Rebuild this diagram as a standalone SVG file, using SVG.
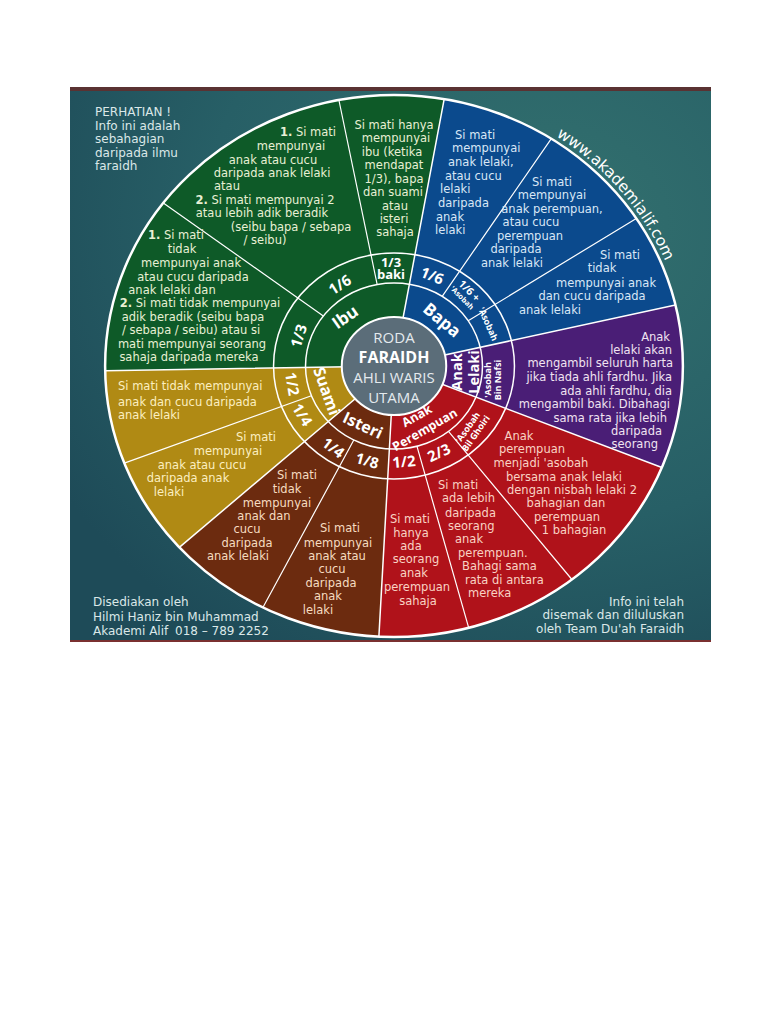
<svg xmlns="http://www.w3.org/2000/svg" width="768" height="1024" viewBox="0 0 768 1024">
<defs>
<radialGradient id="bg" cx="0.75" cy="0.25" r="0.9">
<stop offset="0" stop-color="#33716f"/>
<stop offset="0.6" stop-color="#275f66"/>
<stop offset="1" stop-color="#1e4b58"/>
</radialGradient>
<path id="urlpath" d="M556 136 A293.2 275 0 0 1 682 315"/>
<style>
text{font-family:"Open Sans","DejaVu Sans",sans-serif;}
.t{font-family:"DejaVu Sans",sans-serif;font-size:11.5px;text-anchor:middle;}
.s{text-anchor:start;}
.e{text-anchor:end;}
.gr{fill:#e8f0d4;}
.bl{fill:#d9e7f6;}
.pu{fill:#f1e3f1;}
.rd{fill:#f9d2c4;}
.br{fill:#f6dcc0;}
.go{fill:#fcefc0;}
.nt{font-family:"DejaVu Sans",sans-serif;fill:#dbe8e8;font-size:12px;}
.nm{fill:#ffffff;font-weight:700;font-size:17px;text-anchor:middle;}
.fr{fill:#ffffff;font-weight:700;font-size:15px;text-anchor:middle;}
.sm{fill:#ffffff;font-weight:700;font-size:8.5px;text-anchor:middle;}
.ln{stroke:#ffffff;stroke-width:1.5;fill:none;}
.ctr{fill:#e4eaee;font-size:15px;text-anchor:middle;}
</style>
</defs>
<rect x="0" y="0" width="768" height="1024" fill="#ffffff"/>
<rect x="70" y="87" width="641" height="555" fill="url(#bg)"/>
<rect x="70" y="87" width="641" height="4" fill="#5a3232"/>
<rect x="70" y="640" width="641" height="2" fill="#7a3030"/>

<g id="wheel" transform="translate(394 366) scale(1.066 1)">
<g id="sector-ibu"><path d="M0 0 L-270.96 4.73 A271 271 0 0 1 47.06 -266.88 Z" fill="#0e5a28"/></g>
<g id="sector-bapa"><path d="M0 0 L47.06 -266.88 A271 271 0 0 1 264.05 -60.96 Z" fill="#0b4a8d"/></g>
<g id="sector-anak-lelaki"><path d="M0 0 L264.05 -60.96 A271 271 0 0 1 251.27 101.52 Z" fill="#4a1e76"/></g>
<g id="sector-anak-perempuan"><path d="M0 0 L251.27 101.52 A271 271 0 0 1 -14.18 270.63 Z" fill="#b0121a"/></g>
<g id="sector-isteri"><path d="M0 0 L-14.18 270.63 A271 271 0 0 1 -201.38 181.33 Z" fill="#6c2b0f"/></g>
<g id="sector-suami"><path d="M0 0 L-201.38 181.33 A271 271 0 0 1 -270.96 4.73 Z" fill="#b08a14"/></g>
<g id="dividers">
<circle cx="0" cy="0" r="83" class="ln" vector-effect="non-scaling-stroke"/>
<circle cx="0" cy="0" r="113" class="ln" vector-effect="non-scaling-stroke"/>
<circle cx="0" cy="0" r="271" class="ln" style="stroke-width:2.5" vector-effect="non-scaling-stroke"/>
<path class="ln" vector-effect="non-scaling-stroke" d="M0 0 L-270.96 4.73 M0 0 L47.06 -266.88 M0 0 L264.05 -60.96 M0 0 L251.27 101.52 M0 0 L-14.18 270.63 M0 0 L-201.38 181.33"/>
<path class="ln" vector-effect="non-scaling-stroke" style="stroke-width:1.2" d="M-66.3 -49.9 L-216.4 -163.1 M-15.8 -81.5 L-51.7 -266 M45.2 -69.6 L147.6 -227.3 M69.6 -45.2 L227.3 -147.6 M51.1 65.4 L166.9 213.5 M21.5 80.2 L70.1 261.8 M-37.7 74 L-123 241.5 M-77.5 29.7 L-253 97.1"/>
</g>
<g id="hub"><circle cx="0" cy="0" r="49" fill="#5b6d79" stroke="#ffffff" stroke-width="2" vector-effect="non-scaling-stroke"/></g>
</g>

<g id="hub-label">
<text class="ctr" x="394" y="343">RODA</text>
<text class="ctr" x="394" y="363" style="font-weight:700;font-size:16px;fill:#ffffff">FARAIDH</text>
<text class="ctr" x="394" y="383">AHLI WARIS</text>
<text class="ctr" x="394" y="403">UTAMA</text>
</g>

<g id="names">
<text class="nm" transform="translate(345 317) rotate(-35)" y="6">Ibu</text>
<text class="nm" transform="translate(442 320) rotate(40)" y="6">Bapa</text>
<text class="nm" style="font-size:14.5px" transform="translate(466 372) rotate(-90)"><tspan x="0" y="-4">Anak</tspan><tspan x="0" y="13">Lelaki</tspan></text>
<text class="nm" style="font-size:12.5px" transform="translate(421 423) rotate(-30)"><tspan x="0" y="-4">Anak</tspan><tspan x="0" y="12">Perempuan</tspan></text>
<text class="nm" style="font-size:16px" transform="translate(363 425) rotate(25)" y="6">Isteri</text>
<text class="nm" style="font-size:16px" transform="translate(327 391) rotate(70)" y="6">Suami</text>
</g>

<g id="fractions">
<text class="fr" transform="translate(299 336) rotate(-72)" y="5">1/3</text>
<text class="fr" transform="translate(340 285) rotate(-32)" y="5">1/6</text>
<text class="fr" style="font-size:13px" transform="translate(391 268)"><tspan x="0" y="-1">1/3</tspan><tspan x="0" y="11">baki</tspan></text>
<text class="fr" transform="translate(432 276) rotate(22)" y="5">1/6</text>
<g transform="translate(466 294) rotate(45)"><text class="fr" style="font-size:10.5px" y="-1">1/6 +</text><text class="sm" style="font-size:7.5px" y="8">'Asobah</text></g>
<text class="sm" style="font-size:9px" transform="translate(488 324) rotate(66)" y="3">'Asobah</text>
<text class="sm" style="font-size:9px" transform="translate(492 380) rotate(-90)"><tspan x="0" y="-1">'Asobah</tspan><tspan x="0" y="9">Bin Nafsi</tspan></text>
<text class="sm" style="font-size:9px" transform="translate(471 430) rotate(-55)"><tspan x="0" y="-1">'Asobah</tspan><tspan x="0" y="9">Bil Ghoiri</tspan></text>
<text class="fr" transform="translate(439 453) rotate(-25)" y="5">2/3</text>
<text class="fr" transform="translate(404 462) rotate(-5)" y="5">1/2</text>
<text class="fr" transform="translate(367 461) rotate(15)" y="5">1/8</text>
<text class="fr" transform="translate(333 448) rotate(37)" y="5">1/4</text>
<text class="fr" transform="translate(302 415) rotate(58)" y="5">1/4</text>
<text class="fr" transform="translate(292 384) rotate(80)" y="5">1/2</text>
</g>

<g id="ibu-1-6-text">
<text class="t gr" x="308" y="136"><tspan font-weight="700">1.</tspan> Si mati</text>
<text class="t gr" x="291" y="150">mempunyai</text>
<text class="t gr" x="273" y="164">anak atau cucu</text>
<text class="t gr" x="272" y="177">daripada anak lelaki</text>
<text class="t gr" x="227" y="190">atau</text>
<text class="t gr" x="265" y="204"><tspan font-weight="700">2.</tspan> Si mati mempunyai 2</text>
<text class="t gr" x="262" y="217">atau lebih adik beradik</text>
<text class="t gr" x="291" y="231">(seibu bapa / sebapa</text>
<text class="t gr" x="265" y="244">/ seibu)</text>
</g>

<g id="ibu-baki-text">
<text class="t gr" x="394" y="129">Si mati hanya</text>
<text class="t gr" x="396" y="142">mempunyai</text>
<text class="t gr" x="392" y="156">ibu (ketika</text>
<text class="t gr" x="394" y="169">mendapat</text>
<text class="t gr" x="394" y="183">1/3), bapa</text>
<text class="t gr" x="393" y="196">dan suami</text>
<text class="t gr" x="395" y="210">atau</text>
<text class="t gr" x="394" y="223">isteri</text>
<text class="t gr" x="395" y="236">sahaja</text>
</g>

<g id="ibu-1-3-text">
<text class="t gr" x="176" y="239"><tspan font-weight="700">1.</tspan> Si mati</text>
<text class="t gr" x="182" y="253">tidak</text>
<text class="t gr" x="191" y="267">mempunyai anak</text>
<text class="t gr" x="193" y="281">atau cucu daripada</text>
<text class="t gr" x="172" y="294">anak lelaki dan</text>
<text class="t gr" x="200" y="307"><tspan font-weight="700">2.</tspan> Si mati tidak mempunyai</text>
<text class="t gr" x="193" y="321">adik beradik (seibu bapa</text>
<text class="t gr" x="191" y="334">/ sebapa / seibu) atau si</text>
<text class="t gr" x="192" y="348">mati mempunyai seorang</text>
<text class="t gr" x="189" y="361">sahaja daripada mereka</text>
</g>

<g id="bapa-1-6-text">
<text class="t s bl" x="455" y="139">Si mati</text>
<text class="t s bl" x="452" y="152">mempunyai</text>
<text class="t s bl" x="448" y="166">anak lelaki,</text>
<text class="t s bl" x="445" y="180">atau cucu</text>
<text class="t s bl" x="440" y="193">lelaki</text>
<text class="t s bl" x="438" y="207">daripada</text>
<text class="t s bl" x="436" y="221">anak</text>
<text class="t s bl" x="435" y="234">lelaki</text>
</g>

<g id="bapa-1-6-asobah-text">
<text class="t bl" x="552" y="186">Si mati</text>
<text class="t bl" x="552" y="199">mempunyai</text>
<text class="t bl" x="552" y="213">anak perempuan,</text>
<text class="t bl" x="531" y="226">atau cucu</text>
<text class="t bl" x="530" y="240">perempuan</text>
<text class="t bl" x="516" y="253">daripada</text>
<text class="t bl" x="512" y="267">anak lelaki</text>
</g>

<g id="bapa-asobah-text">
<text class="t bl" x="620" y="259">Si mati</text>
<text class="t bl" x="602" y="272">tidak</text>
<text class="t bl" x="606" y="287">mempunyai anak</text>
<text class="t bl" x="592" y="300">dan cucu daripada</text>
<text class="t bl" x="550" y="314">anak lelaki</text>
</g>

<g id="url">
<text style="font-family:'DejaVu Sans',sans-serif;font-size:15.5px;fill:#ffffff"><textPath href="#urlpath">www.akademialif.com</textPath></text>
</g>

<g id="anak-lelaki-text">
<text class="t e pu" x="670" y="341">Anak</text>
<text class="t e pu" x="672" y="354">lelaki akan</text>
<text class="t e pu" x="673" y="367">mengambil seluruh harta</text>
<text class="t e pu" x="672" y="381">jika tiada ahli fardhu. Jika</text>
<text class="t e pu" x="672" y="395">ada ahli fardhu, dia</text>
<text class="t e pu" x="670" y="408">mengambil baki. Dibahagi</text>
<text class="t e pu" x="667" y="422">sama rata jika lebih</text>
<text class="t e pu" x="662" y="435">daripada</text>
<text class="t e pu" x="658" y="448">seorang</text>
</g>

<g id="perempuan-asobah-text">
<text class="t rd" x="519" y="440">Anak</text>
<text class="t rd" x="532" y="453">perempuan</text>
<text class="t rd" x="541" y="467">menjadi 'asobah</text>
<text class="t rd" x="564" y="481">bersama anak lelaki</text>
<text class="t rd" x="572" y="494">dengan nisbah lelaki 2</text>
<text class="t rd" x="566" y="507">bahagian dan</text>
<text class="t rd" x="567" y="521">perempuan</text>
<text class="t rd" x="574" y="534">1 bahagian</text>
</g>

<g id="perempuan-2-3-text">
<text class="t s rd" x="438" y="489">Si mati</text>
<text class="t s rd" x="442" y="502">ada lebih</text>
<text class="t s rd" x="445" y="517">daripada</text>
<text class="t s rd" x="448" y="530">seorang</text>
<text class="t s rd" x="455" y="543">anak</text>
<text class="t s rd" x="458" y="557">perempuan.</text>
<text class="t s rd" x="462" y="570">Bahagi sama</text>
<text class="t s rd" x="465" y="584">rata di antara</text>
<text class="t s rd" x="468" y="597">mereka</text>
</g>

<g id="perempuan-1-2-text">
<text class="t rd" x="410" y="523">Si mati</text>
<text class="t rd" x="411" y="537">hanya</text>
<text class="t rd" x="411" y="550">ada</text>
<text class="t rd" x="416" y="563">seorang</text>
<text class="t rd" x="414" y="577">anak</text>
<text class="t rd" x="417" y="591">perempuan</text>
<text class="t rd" x="418" y="605">sahaja</text>
</g>

<g id="isteri-1-8-text">
<text class="t br" x="340" y="532">Si mati</text>
<text class="t br" x="338" y="547">mempunyai</text>
<text class="t br" x="337" y="560">anak atau</text>
<text class="t br" x="332" y="573">cucu</text>
<text class="t br" x="331" y="587">daripada</text>
<text class="t br" x="328" y="600">anak</text>
<text class="t br" x="318" y="614">lelaki</text>
</g>

<g id="isteri-1-4-text">
<text class="t br" x="297" y="479">Si mati</text>
<text class="t br" x="287" y="493">tidak</text>
<text class="t br" x="277" y="507">mempunyai</text>
<text class="t br" x="264" y="520">anak dan</text>
<text class="t br" x="247" y="533">cucu</text>
<text class="t br" x="247" y="547">daripada</text>
<text class="t br" x="238" y="560">anak lelaki</text>
</g>

<g id="suami-1-2-text">
<text class="t s go" x="118" y="390">Si mati tidak mempunyai</text>
<text class="t s go" x="118" y="406">anak dan cucu daripada</text>
<text class="t s go" x="118" y="419">anak lelaki</text>
</g>

<g id="suami-1-4-text">
<text class="t go" x="256" y="441">Si mati</text>
<text class="t go" x="228" y="455">mempunyai</text>
<text class="t go" x="202" y="469">anak atau cucu</text>
<text class="t go" x="188" y="482">daripada anak</text>
<text class="t go" x="169" y="496">lelaki</text>
</g>

<g id="note-top">
<text class="nt" x="95" y="116">PERHATIAN !</text>
<text class="nt" x="95" y="130">Info ini adalah</text>
<text class="nt" x="95" y="143">sebahagian</text>
<text class="nt" x="95" y="157">daripada ilmu</text>
<text class="nt" x="95" y="170">faraidh</text>
</g>

<g id="note-credit">
<text class="nt" x="93" y="606">Disediakan oleh</text>
<text class="nt" x="93" y="621">Hilmi Haniz bin Muhammad</text>
<text class="nt" x="93" y="635">Akademi Alif<tspan x="175">018 – 789 2252</tspan></text>
</g>

<g id="note-check">
<text class="nt e" x="684" y="606">Info ini telah</text>
<text class="nt e" x="684" y="619">disemak dan diluluskan</text>
<text class="nt e" x="684" y="633">oleh Team  Du'ah Faraidh</text>
</g>
</svg>
